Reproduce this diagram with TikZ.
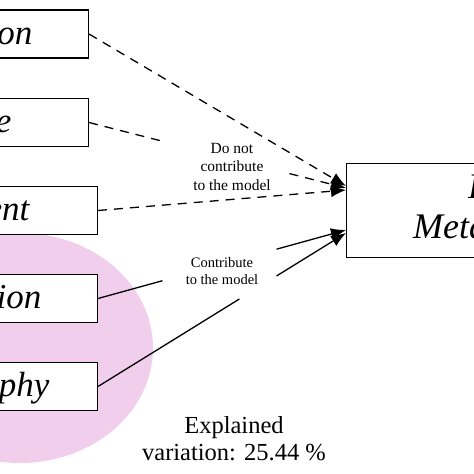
\documentclass[tikz,border=0pt]{standalone}
\usepackage{fontspec}
\setmainfont{Liberation Serif}
\usetikzlibrary{arrows.meta,calc}
\definecolor{pinkfill}{RGB}{240,206,236}
\begin{document}
\begin{tikzpicture}[x=1pt,y=-1pt,
  box/.style={draw=black, line width=1.4pt, fill=white, anchor=east,
    minimum height=48pt, text width=200pt, align=right,
    text height=26pt, text depth=6pt,
    font=\fontsize{35}{40}\selectfont\itshape},
  bigtxt/.style={inner sep=0pt, font=\fontsize{36}{40}\selectfont\itshape},
  lab/.style={align=center, inner sep=0pt},
  conn/.style={line width=1.3pt},
  dsh/.style={conn, dash pattern=on 9pt off 7pt},
  tip/.style={-{Latex[length=15pt,width=12pt]}}]
\useasboundingbox (0,0) rectangle (474,474);
\clip (0,0) rectangle (474,474);
\fill[pinkfill] (20,348) ellipse [x radius=133, y radius=115];
% left boxes
\node[box, inner xsep=56pt] (b1) at (89,34) {Season};
\node[box, inner xsep=77pt] (b2) at (89,122.5) {Climate};
\node[box, inner xsep=68pt] (b3) at (98,210.5) {Management};
\node[box, inner xsep=56pt] (b4) at (98,298.5) {Precipitation};
\node[box, inner xsep=48pt] (b5) at (98,386.5) {Topography};
% right box
\node[draw=black, line width=1.4pt, fill=white, anchor=north west,
  minimum width=220pt, minimum height=94pt] (rb) at (346,163) {};
\node[bigtxt, anchor=base west] (rt1) at (468,198) {Plant};
\node[bigtxt, anchor=base west] (rt2) at (413,238) {Metabolites};
% target points
\coordinate (d1) at (346,186);
\coordinate (d2) at (346,188);
\coordinate (d3) at (346,190);
\coordinate (d4) at (346,230);
\coordinate (d5) at (346,233);
% dashed connectors
\draw[dsh,tip] (b1.east) -- (d1);
\draw[dsh] (b2.east) -- ($(b2.east)!0.30!(d2)$);
\draw[dsh,tip] ($(b2.east)!0.78!(d2)$) -- (d2);
\draw[dsh,tip] (b3.east) -- (d3);
% solid connectors
\draw[conn] (b4.east) -- ($(b4.east)!0.26!(d4)$);
\draw[conn,tip] ($(b4.east)!0.72!(d4)$) -- (d4);
\draw[conn] (b5.east) -- ($(b5.east)!0.57!(d5)$);
\draw[conn,tip] ($(b5.east)!0.72!(d5)$) -- (d5);
% labels
\node[lab, font=\fontsize{15.5}{18.5}\selectfont, anchor=base] (l1) at (232,190) {Do not\\contribute\\to the model};
\node[lab, font=\fontsize{14.5}{17}\selectfont, anchor=base] (l2) at (222,284) {Contribute\\to the model};
\node[lab, font=\fontsize{24.5}{27}\selectfont, anchor=base] (ev) at (234,460) {Explained\\variation: 25.44 \%};
\end{tikzpicture}
\end{document}
